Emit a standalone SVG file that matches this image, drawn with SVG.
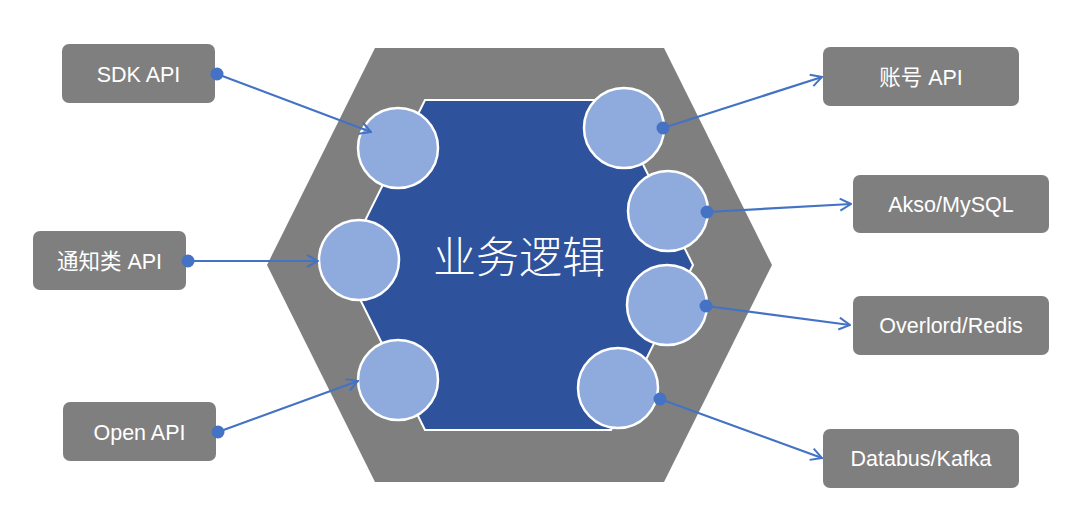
<svg xmlns="http://www.w3.org/2000/svg" width="1080" height="515" viewBox="0 0 1080 515">
  <defs>
    <style>
      .box { fill: #7f7f7f; }
      .label { font-family: "Liberation Sans", "Noto Sans CJK SC", sans-serif; font-size: 21.5px; fill: #ffffff; text-anchor: middle; }
      .port { fill: #8faadc; stroke: #ffffff; stroke-width: 2.5; }
      .conn { stroke: #4472c4; stroke-width: 2.2; fill: none; marker-end: url(#arrow); }
      .dot { fill: #4472c4; }
    </style>
    <marker id="arrow" viewBox="0 0 13 14" refX="12" refY="7" markerWidth="13" markerHeight="14" markerUnits="userSpaceOnUse" orient="auto">
      <path d="M1,1 L12,7 L1,13" fill="none" stroke="#4472c4" stroke-width="2"/>
    </marker>
  </defs>
  <rect width="1080" height="515" fill="#ffffff"/>

  <g id="hexagon">
    <polygon points="375,48 664,48 772,265 664,482 375,482 267,265" fill="#7f7f7f"/>
    <polygon points="425,100 611,100 693,265 611,430 425,430 343,265" fill="#2e529b" stroke="#ffffff" stroke-width="2"/>
    <text x="519" y="273" font-family="Noto Sans CJK SC, sans-serif" font-size="43" font-weight="300" fill="#ffffff" text-anchor="middle">业务逻辑</text>
  </g>

  <g id="ports">
    <circle class="port" cx="398" cy="148" r="40"/>
    <circle class="port" cx="359" cy="260" r="40"/>
    <circle class="port" cx="398" cy="380" r="40"/>
    <circle class="port" cx="624" cy="128" r="40"/>
    <circle class="port" cx="668" cy="211" r="40"/>
    <circle class="port" cx="667" cy="305" r="40"/>
    <circle class="port" cx="618" cy="388" r="40"/>
  </g>

  <g id="sdk-api">
    <rect class="box" x="62" y="44" width="153" height="59" rx="7"/>
    <text class="label" x="138.5" y="81.5">SDK API</text>
  </g>
  <g id="notify-api">
    <rect class="box" x="33" y="231" width="153" height="59" rx="7"/>
    <text class="label" x="109.5" y="268.5">通知类 API</text>
  </g>
  <g id="open-api">
    <rect class="box" x="63" y="402" width="153" height="59" rx="7"/>
    <text class="label" x="139.5" y="439.5">Open API</text>
  </g>
  <g id="account-api">
    <rect class="box" x="823" y="47" width="196" height="59" rx="7"/>
    <text class="label" x="921" y="84.5">账号 API</text>
  </g>
  <g id="akso-mysql">
    <rect class="box" x="853" y="175" width="196" height="58" rx="7"/>
    <text class="label" x="951" y="211.5">Akso/MySQL</text>
  </g>
  <g id="overlord-redis">
    <rect class="box" x="853" y="296" width="196" height="59" rx="7"/>
    <text class="label" x="951" y="333">Overlord/Redis</text>
  </g>
  <g id="databus-kafka">
    <rect class="box" x="823" y="429" width="196" height="59" rx="7"/>
    <text class="label" x="921" y="466">Databus/Kafka</text>
  </g>

  <g id="connectors">
    <line class="conn" x1="217" y1="74" x2="371" y2="132"/>
    <circle class="dot" cx="217" cy="74" r="6.5"/>
    <line class="conn" x1="188" y1="261" x2="318" y2="261"/>
    <circle class="dot" cx="188" cy="261" r="6.5"/>
    <line class="conn" x1="218" y1="432" x2="358" y2="381"/>
    <circle class="dot" cx="218" cy="432" r="6.5"/>
    <line class="conn" x1="663" y1="128" x2="822" y2="77"/>
    <circle class="dot" cx="663" cy="128" r="6.5"/>
    <line class="conn" x1="707" y1="212" x2="851" y2="204"/>
    <circle class="dot" cx="707" cy="212" r="6.5"/>
    <line class="conn" x1="706" y1="306" x2="850" y2="325"/>
    <circle class="dot" cx="706" cy="306" r="6.5"/>
    <line class="conn" x1="660" y1="399" x2="822" y2="458"/>
    <circle class="dot" cx="660" cy="399" r="6.5"/>
  </g>
</svg>
